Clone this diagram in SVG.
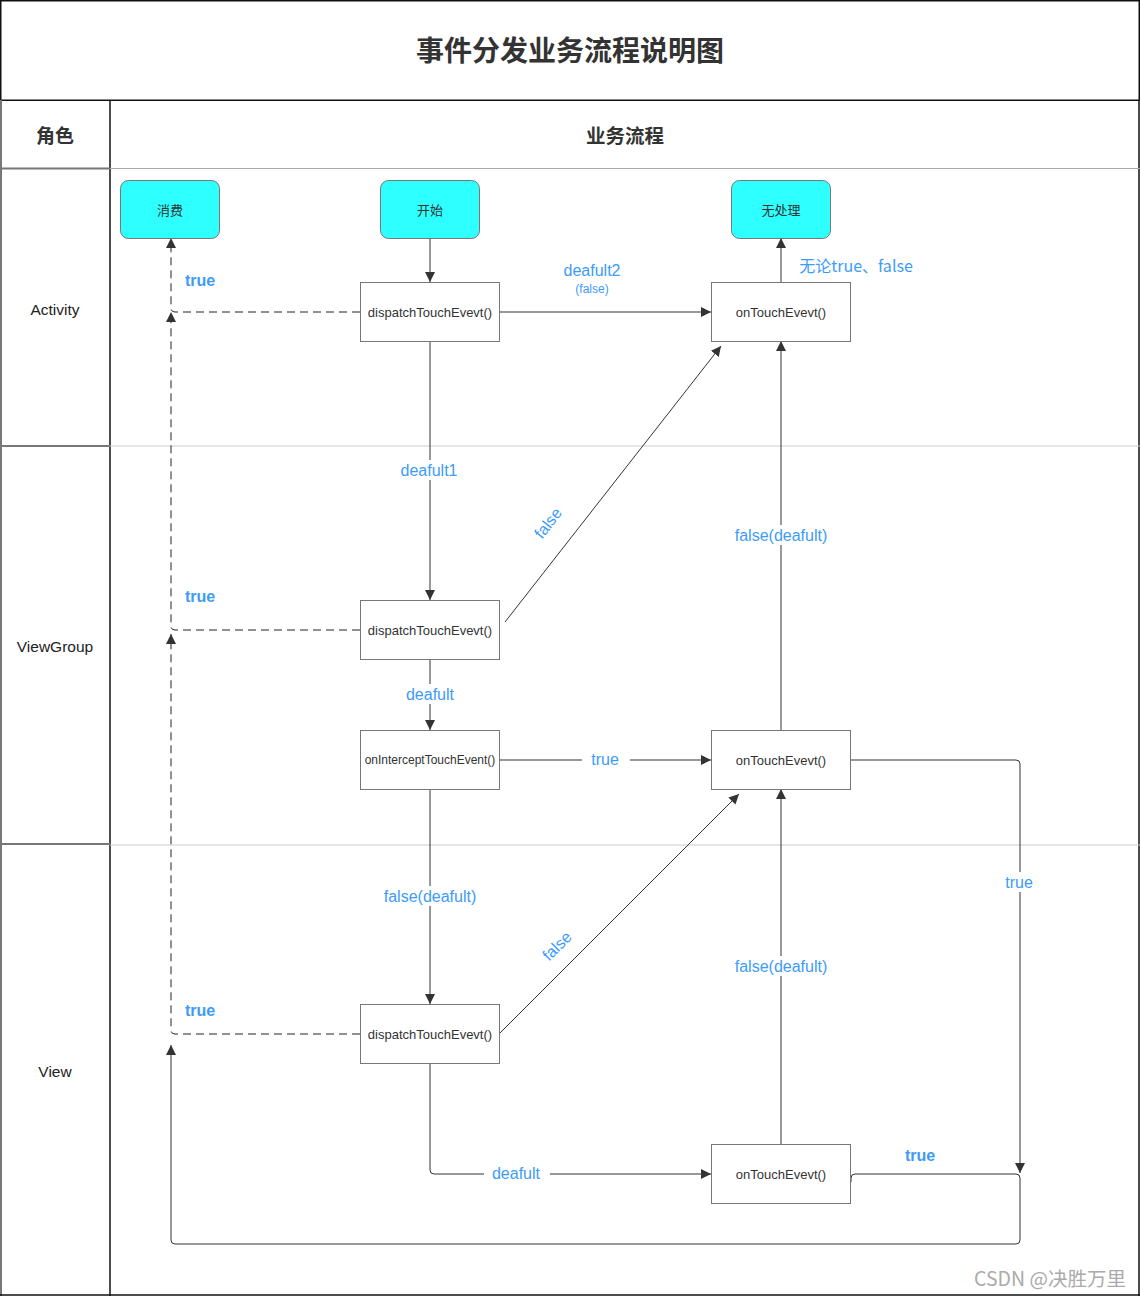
<svg xmlns="http://www.w3.org/2000/svg" width="1140" height="1296" viewBox="0 0 1140 1296">
<defs>
<marker id="ah" viewBox="0 0 10 10" refX="10" refY="5" markerWidth="10" markerHeight="10" markerUnits="userSpaceOnUse" orient="auto">
<path d="M0,0 L10,5 L0,10 Z" fill="#333"/>
</marker>
<style>
.cn{font-family:"Noto Sans CJK SC","Liberation Sans",sans-serif}
.t{font-family:"Liberation Sans","Noto Sans CJK SC",sans-serif}
.box{fill:#fff;stroke:#777;stroke-width:1}
.term{fill:#2effff;stroke:#777;stroke-width:1}
.nt{font-size:13px;fill:#333;text-anchor:middle;dominant-baseline:central}
.lbl{font-size:16px;fill:#3d9bfa;text-anchor:middle;dominant-baseline:central}
.sm{font-size:12px}
.bl{font-weight:bold}
.ln{fill:none;stroke:#333;stroke-width:1}
.dash{stroke:#222;stroke-dasharray:8,5}
.lane{font-size:15.5px;fill:#222;text-anchor:middle;dominant-baseline:central}
</style>
</defs>
<rect x="0" y="0" width="1140" height="1296" fill="#fff"/>
<g id="frame">
<rect x="0.75" y="0.75" width="1138.5" height="99.5" fill="none" stroke="#111" stroke-width="1.5"/>
<line x1="1" y1="100" x2="1" y2="1296" stroke="#777" stroke-width="2"/>
<line x1="1139" y1="100" x2="1139" y2="1296" stroke="#111" stroke-width="1.5"/>
<line x1="0" y1="1295" x2="1140" y2="1295" stroke="#111" stroke-width="1.5"/>
<line x1="110" y1="100" x2="110" y2="1296" stroke="#111" stroke-width="1.5"/>
<line x1="0" y1="168.5" x2="110" y2="168.5" stroke="#777" stroke-width="2"/>
<line x1="110" y1="168.5" x2="1140" y2="168.5" stroke="#aaa" stroke-width="1"/>
<line x1="0" y1="446" x2="110" y2="446" stroke="#777" stroke-width="2"/>
<line x1="110" y1="446" x2="1140" y2="446" stroke="#ccc" stroke-width="1"/>
<line x1="0" y1="844" x2="110" y2="844" stroke="#777" stroke-width="2"/>
<line x1="110" y1="845" x2="1140" y2="845" stroke="#ccc" stroke-width="1"/>
<text x="570" y="49" class="cn" font-size="28" font-weight="bold" fill="#333" text-anchor="middle" dominant-baseline="central">事件分发业务流程说明图</text>
<text x="55" y="134" class="cn" font-size="19" font-weight="bold" fill="#333" text-anchor="middle" dominant-baseline="central">角色</text>
<text x="625" y="134" class="cn" font-size="19.5" font-weight="bold" fill="#333" text-anchor="middle" dominant-baseline="central">业务流程</text>
<text x="55" y="309" class="t lane">Activity</text>
<text x="55" y="646" class="t lane">ViewGroup</text>
<text x="55" y="1071" class="t lane">View</text>
</g>
<g id="connectors">
<line class="ln" x1="430" y1="238" x2="430" y2="282" marker-end="url(#ah)"/>
<line class="ln" x1="499" y1="312" x2="711" y2="312" marker-end="url(#ah)"/>
<line class="ln" x1="781" y1="282" x2="781" y2="238" marker-end="url(#ah)"/>
<path class="ln dash" d="M360,312 L175,312 Q171,312 171,308 L171,238" marker-end="url(#ah)"/>
<line class="ln" x1="430" y1="341" x2="430" y2="600" marker-end="url(#ah)"/>
<line class="ln" x1="505" y1="622" x2="721" y2="346" marker-end="url(#ah)"/>
<path class="ln dash" d="M360,630 L175,630 Q171,630 171,626 L171,312" marker-end="url(#ah)"/>
<line class="ln" x1="430" y1="659" x2="430" y2="730" marker-end="url(#ah)"/>
<line class="ln" x1="499" y1="760" x2="711" y2="760" marker-end="url(#ah)"/>
<line class="ln" x1="781" y1="730" x2="781" y2="341" marker-end="url(#ah)"/>
<path class="ln" d="M850,760 L1016,760 Q1020,760 1020,764 L1020,1173" marker-end="url(#ah)"/>
<line class="ln" x1="430" y1="789" x2="430" y2="1004" marker-end="url(#ah)"/>
<line class="ln" x1="499" y1="1034" x2="739" y2="794" marker-end="url(#ah)"/>
<path class="ln dash" d="M360,1034 L175,1034 Q171,1034 171,1030 L171,634" marker-end="url(#ah)"/>
<path class="ln" d="M430,1063 L430,1170 Q430,1174 434,1174 L711,1174" marker-end="url(#ah)"/>
<line class="ln" x1="781" y1="1144" x2="781" y2="789" marker-end="url(#ah)"/>
<path class="ln" d="M851,1182 L851,1178 Q851,1174 855,1174 L1016,1174 Q1020,1174 1020,1178 L1020,1240 Q1020,1244 1016,1244 L175,1244 Q171,1244 171,1240 L171,1045" marker-end="url(#ah)"/>
<rect x="393" y="460" width="74" height="20" fill="#fff"/>
<rect x="398" y="684" width="64" height="20" fill="#fff"/>
<rect x="582" y="749" width="48" height="20" fill="#fff"/>
<rect x="726" y="525" width="110" height="20" fill="#fff"/>
<rect x="1000" y="872" width="40" height="20" fill="#fff"/>
<rect x="376" y="886" width="108" height="20" fill="#fff"/>
<rect x="726" y="956" width="110" height="20" fill="#fff"/>
<rect x="484" y="1163" width="66" height="20" fill="#fff"/>
<text x="592" y="270" class="t lbl">deafult2</text>
<text x="592" y="289" class="t lbl sm">(false)</text>
<text x="856" y="265" class="cn lbl">无论true、false</text>
<text x="200" y="280" class="t lbl bl">true</text>
<text x="429" y="470" class="t lbl">deafult1</text>
<text x="548" y="523" class="t lbl" transform="rotate(-52 548 523)">false</text>
<text x="200" y="596" class="t lbl bl">true</text>
<text x="430" y="694" class="t lbl">deafult</text>
<text x="605" y="759" class="t lbl">true</text>
<text x="781" y="535" class="t lbl">false(deafult)</text>
<text x="1019" y="882" class="t lbl">true</text>
<text x="430" y="896" class="t lbl">false(deafult)</text>
<text x="557" y="946" class="t lbl" transform="rotate(-45 557 946)">false</text>
<text x="200" y="1010" class="t lbl bl">true</text>
<text x="516" y="1173" class="t lbl">deafult</text>
<text x="781" y="966" class="t lbl">false(deafult)</text>
<text x="920" y="1155" class="t lbl bl">true</text>
</g>
<g id="n-xiaofei"><rect class="term" x="120.5" y="180.5" width="99" height="58" rx="8"/><text x="170" y="209" class="cn nt">消费</text></g>
<g id="n-start"><rect class="term" x="380.5" y="180.5" width="99" height="58" rx="8"/><text x="430" y="209" class="cn nt">开始</text></g>
<g id="n-none"><rect class="term" x="731.5" y="180.5" width="99" height="58" rx="8"/><text x="781" y="209" class="cn nt">无处理</text></g>
<g id="n-a-dispatch"><rect class="box" x="360.5" y="282.5" width="139" height="59"/><text x="430" y="312" class="t nt">dispatchTouchEvevt()</text></g>
<g id="n-a-touch"><rect class="box" x="711.5" y="282.5" width="139" height="59"/><text x="781" y="312" class="t nt">onTouchEvevt()</text></g>
<g id="n-vg-dispatch"><rect class="box" x="360.5" y="600.5" width="139" height="59"/><text x="430" y="630" class="t nt">dispatchTouchEvevt()</text></g>
<g id="n-vg-intercept"><rect class="box" x="360.5" y="730.5" width="139" height="59"/><text x="430" y="760" class="t nt sm">onInterceptTouchEvent()</text></g>
<g id="n-vg-touch"><rect class="box" x="711.5" y="730.5" width="139" height="59"/><text x="781" y="760" class="t nt">onTouchEvevt()</text></g>
<g id="n-v-dispatch"><rect class="box" x="360.5" y="1004.5" width="139" height="59"/><text x="430" y="1034" class="t nt">dispatchTouchEvevt()</text></g>
<g id="n-v-touch"><rect class="box" x="711.5" y="1144.5" width="139" height="59"/><text x="781" y="1174" class="t nt">onTouchEvevt()</text></g>
<text x="1050" y="1277" class="cn" font-size="19.5" fill="#aaa" text-anchor="middle" dominant-baseline="central">CSDN @决胜万里</text>
</svg>
